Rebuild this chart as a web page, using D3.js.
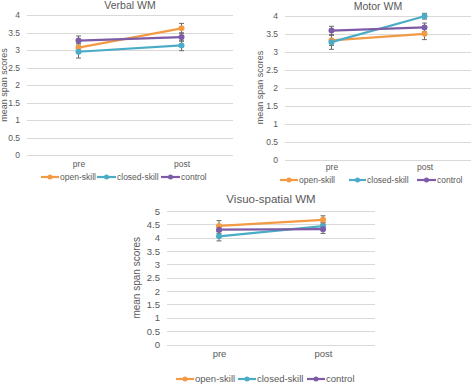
<!DOCTYPE html>
<html><head><meta charset="utf-8">
<script src="https://cdn.jsdelivr.net/npm/d3@7"></script>
<style>
html,body{margin:0;padding:0;background:#fff;}
svg text{font-family:"Liberation Sans",Arial,sans-serif;fill:#595959;}
</style></head>
<body>
<svg id="chart" width="474" height="384"></svg>
<script>
const timepoints = ["pre", "post"];
const groups = ["open-skill", "closed-skill", "control"];
const colors = ["#F39A44", "#4AACC6", "#7D5BA6"];
const titles = ["Verbal WM", "Motor WM", "Visuo-spatial WM"];
const yTicksVerbal = [0, 0.5, 1, 1.5, 2, 2.5, 3, 3.5, 4];
const yTicksMotor = [0, 0.5, 1, 1.5, 2, 2.5, 3, 3.5, 4];
const yTicksVisuo = [0, 0.5, 1, 1.5, 2, 2.5, 3, 3.5, 4, 4.5, 5];
// means [pre, post]
const verbalOpen = [3.07, 3.62];
const verbalClosed = [2.95, 3.13];
const verbalControl = [3.27, 3.37];
const motorOpen = [3.31, 3.49];
const motorClosed = [3.26, 3.98];
const motorControl = [3.58, 3.67];
const visuoOpen = [4.44, 4.67];
const visuoClosed = [4.05, 4.43];
const visuoControl = [4.30, 4.32];
// standard errors [pre, post]
const verbalOpenErr = [0.12, 0.14];
const verbalClosedErr = [0.18, 0.15];
const verbalControlErr = [0.13, 0.12];
const motorOpenErr = [0.14, 0.16];
const motorClosedErr = [0.2, 0.08];
const motorControlErr = [0.12, 0.12];
const visuoOpenErr = [0.2, 0.15];
const visuoClosedErr = [0.17, 0.14];
const visuoControlErr = [0.14, 0.16];

const panels = [
  {title: titles[0], ticks: yTicksVerbal, max: 4, fs: 8.5,
   series: [verbalOpen, verbalClosed, verbalControl], errs: [verbalOpenErr, verbalClosedErr, verbalControlErr],
   x0: 27, x1: 233, yTop: 15, yBot: 155, titleY: 9, xLabY: 166, legY: 177, yLabX: 4,
   leg: [[41, 59], [97, 116], [161, 180]]},
  {title: titles[1], ticks: yTicksMotor, max: 4, fs: 8.5,
   series: [motorOpen, motorClosed, motorControl], errs: [motorOpenErr, motorClosedErr, motorControlErr],
   x0: 285, x1: 471, yTop: 15.5, yBot: 159.5, titleY: 10, xLabY: 169, legY: 180, yLabX: 260,
   leg: [[280, 298], [349, 366], [417, 436]]},
  {title: titles[2], ticks: yTicksVisuo, max: 5, fs: 9.5,
   series: [visuoOpen, visuoClosed, visuoControl], errs: [visuoOpenErr, visuoClosedErr, visuoControlErr],
   x0: 167, x1: 375, yTop: 211, yBot: 344.5, titleY: 203, xLabY: 355, legY: 379, yLabX: 136,
   leg: [[176, 194], [238, 256], [307, 325]]}
];

const svg = d3.select("#chart");

panels.forEach(p => {
  const g = svg.append("g");
  const y = d3.scaleLinear().domain([0, p.max]).range([p.yBot, p.yTop]);
  const x = d3.scalePoint().domain(timepoints).range([p.x0, p.x1]).padding(0.5);
  const font = '"Liberation Sans",Arial,sans-serif';

  g.append("g").selectAll("line").data(p.ticks).join("line")
    .attr("x1", p.x0).attr("x2", p.x1)
    .attr("y1", d => Math.round(y(d)) + 0.5).attr("y2", d => Math.round(y(d)) + 0.5)
    .attr("stroke", "#d9d9d9").attr("stroke-width", 1);

  const yAxis = d3.axisLeft(y).tickValues(p.ticks).tickSize(0).tickPadding(7).tickFormat(d3.format("~g"));
  const ya = g.append("g").attr("transform", `translate(${p.x0},0)`).call(yAxis);
  ya.select(".domain").remove();
  ya.selectAll("text").attr("font-size", p.fs).style("font-family", font).attr("fill", "#595959");

  const xAxis = d3.axisBottom(x).tickSize(0).tickPadding(0);
  const xa = g.append("g").attr("transform", `translate(0,${p.xLabY - 5})`).call(xAxis);
  xa.select(".domain").remove();
  xa.selectAll("text").attr("font-size", p.fs).attr("fill", "#595959").style("font-family", font);

  g.append("text").attr("x", (p.x0 + p.x1) / 2).attr("y", p.titleY)
    .attr("text-anchor", "middle").attr("font-size", p.fs + 2).text(p.title);

  g.append("text").attr("transform", `translate(${p.yLabX},${(p.yTop + p.yBot) / 2}) rotate(-90)`)
    .attr("text-anchor", "middle").attr("dy", "0.35em").attr("font-size", p.fs + 0.5).text("mean span scores");

  const line = d3.line().x((d, i) => x(timepoints[i])).y(d => y(d));
  p.series.forEach((s, k) => {
    g.append("path").datum(s).attr("d", line).attr("fill", "none")
      .attr("stroke", colors[k]).attr("stroke-width", 2.2);
  });
  p.series.forEach((s, k) => {
    s.forEach((v, i) => {
      const cx = x(timepoints[i]);
      const e = p.errs[k][i];
      const eg = g.append("g").attr("stroke", "#6b6b6b").attr("stroke-width", 1);
      eg.append("line").attr("x1", cx).attr("x2", cx).attr("y1", y(v - e)).attr("y2", y(v + e));
      eg.append("line").attr("x1", cx - 2.5).attr("x2", cx + 2.5).attr("y1", y(v - e)).attr("y2", y(v - e));
      eg.append("line").attr("x1", cx - 2.5).attr("x2", cx + 2.5).attr("y1", y(v + e)).attr("y2", y(v + e));
    });
  });
  p.series.forEach((s, k) => {
    g.append("g").selectAll("circle").data(s).join("circle")
      .attr("cx", (d, i) => x(timepoints[i])).attr("cy", d => y(d)).attr("r", 3)
      .attr("fill", colors[k]);
  });

  groups.forEach((name, k) => {
    const [a, b] = p.leg[k];
    g.append("line").attr("x1", a).attr("x2", b).attr("y1", p.legY).attr("y2", p.legY)
      .attr("stroke", colors[k]).attr("stroke-width", 2.2);
    g.append("circle").attr("cx", (a + b) / 2).attr("cy", p.legY).attr("r", 2.5).attr("fill", colors[k]);
    g.append("text").attr("x", b + 1).attr("y", p.legY).attr("dy", "0.35em")
      .attr("font-size", p.fs).text(name);
  });
});
</script>
</body></html>
